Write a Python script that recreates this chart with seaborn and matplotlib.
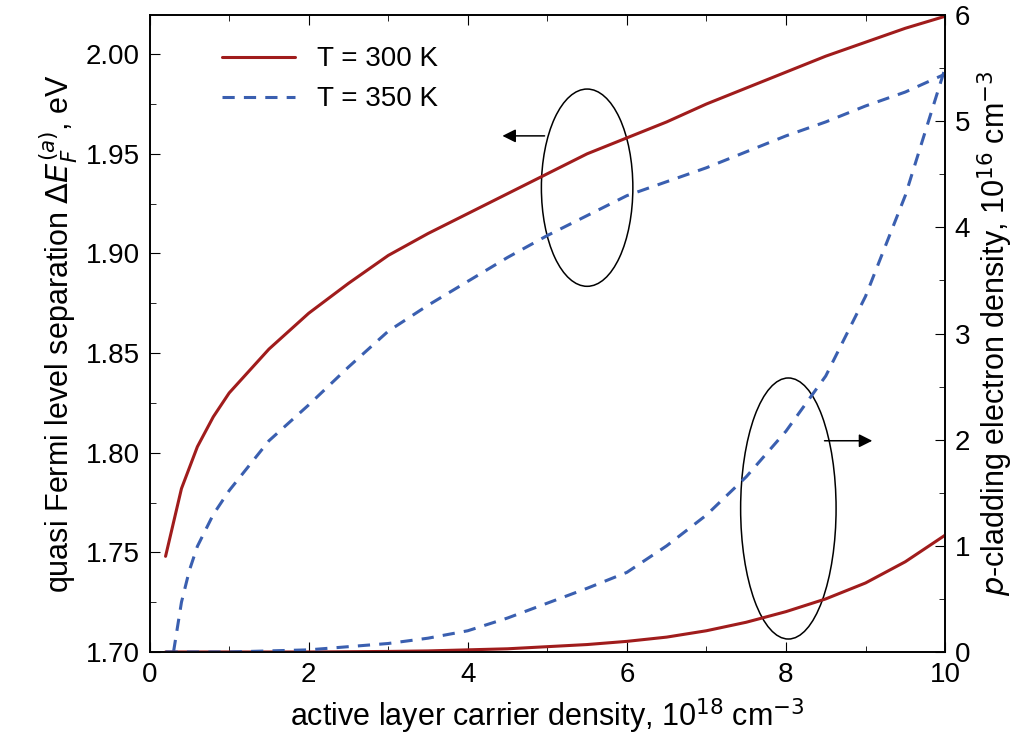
import numpy as np
import pandas as pd
import matplotlib
matplotlib.use("Agg")
import matplotlib.pyplot as plt
import seaborn as sns
from matplotlib.patches import Ellipse
from matplotlib.ticker import AutoMinorLocator

# Quasi Fermi level separation (left axis)
x_fermi_300 = [0.2, 0.4, 0.6, 0.8, 1.0, 1.5, 2.0, 2.5, 3.0, 3.5, 4.0, 4.5, 5.0, 5.5, 6.0, 6.5, 7.0, 7.5, 8.0, 8.5, 9.0, 9.5, 10.0]
fermi_300 = [1.748, 1.782, 1.803, 1.818, 1.830, 1.852, 1.870, 1.885, 1.899, 1.910, 1.920, 1.930, 1.940, 1.950, 1.958, 1.966, 1.975, 1.983, 1.991, 1.999, 2.006, 2.013, 2.019]
x_fermi_350 = [0.3, 0.4, 0.5, 0.6, 0.8, 1.0, 1.5, 2.0, 2.5, 3.0, 3.5, 4.0, 4.5, 5.0, 5.5, 6.0, 6.5, 7.0, 7.5, 8.0, 8.5, 9.0, 9.5, 10.0]
fermi_350 = [1.700, 1.725, 1.741, 1.753, 1.769, 1.781, 1.806, 1.824, 1.843, 1.861, 1.874, 1.886, 1.898, 1.909, 1.919, 1.929, 1.936, 1.943, 1.951, 1.959, 1.966, 1.974, 1.981, 1.990]

# p-cladding electron density (right axis)
x_elec = [0.2, 1.0, 2.0, 3.0, 3.5, 4.0, 4.5, 5.0, 5.5, 6.0, 6.5, 7.0, 7.5, 8.0, 8.5, 9.0, 9.5, 10.0]
elec_300 = [0.0, 0.0, 0.0, 0.005, 0.01, 0.02, 0.03, 0.05, 0.07, 0.10, 0.14, 0.20, 0.28, 0.38, 0.50, 0.65, 0.85, 1.10]
elec_350 = [0.0, 0.0, 0.02, 0.08, 0.13, 0.20, 0.32, 0.46, 0.60, 0.75, 1.00, 1.29, 1.65, 2.08, 2.60, 3.35, 4.30, 5.50]

RED = "#a01c1c"
BLUE = "#3a5fb0"

sns.set_style("ticks")
plt.rcParams['font.family'] = ['Liberation Sans', 'DejaVu Sans']
plt.rcParams['font.size'] = 20
plt.rcParams['text.color'] = 'black'
plt.rcParams['axes.labelcolor'] = 'black'
plt.rcParams['xtick.color'] = 'black'
plt.rcParams['ytick.color'] = 'black'

fig = plt.figure(figsize=(10.25, 7.56), dpi=100)
ax = fig.add_axes([0.146, 0.1376, 0.776, 0.8424])
ax2 = ax.twinx()

sns.lineplot(x=x_fermi_300, y=fermi_300, ax=ax, color=RED, lw=2.2, label="T = 300 K")
sns.lineplot(x=x_fermi_350, y=fermi_350, ax=ax, color=BLUE, lw=2.2, ls=(0, (4, 3)), label="T = 350 K")
sns.lineplot(x=x_elec, y=elec_300, ax=ax2, color=RED, lw=2.2, legend=False)
sns.lineplot(x=x_elec, y=elec_350, ax=ax2, color=BLUE, lw=2.2, ls=(0, (4, 3)), legend=False)

ax.set_xlim(0, 10)
ax.set_ylim(1.70, 2.0196)
ax2.set_ylim(0, 6)
ax.set_yticks(np.arange(1.70, 2.001, 0.05))
ax.set_yticklabels([f"{v:.2f}" for v in np.arange(1.70, 2.001, 0.05)])
for a in (ax, ax2):
    a.xaxis.set_minor_locator(AutoMinorLocator(2))
    a.yaxis.set_minor_locator(AutoMinorLocator(2))
    a.tick_params(which="both", direction="in", labelsize=20, pad=7)
    a.tick_params(which="major", length=7)
    a.tick_params(which="minor", length=4)
    for s in a.spines.values():
        s.set_linewidth(1.2)
        s.set_color("black")
ax2.tick_params(which="both", top=True)
ax.tick_params(which="both", top=True)

ax.set_xlabel("active layer carrier density, 10$^{18}$ cm$^{-3}$", fontsize=22, labelpad=6)
ax.set_ylabel("quasi Fermi level separation $\\Delta E_F^{(a)}$, eV", fontsize=22)
ax2.set_ylabel("$p$-cladding electron density, 10$^{16}$ cm$^{-3}$", fontsize=22)

ax.legend(loc="upper left", bbox_to_anchor=(0.06, 0.99), frameon=False, fontsize=20, handlelength=2.6)

ax.add_patch(Ellipse((5.5, 1.933), 1.15, 0.099, fill=False, ec="black", lw=1.1))
ax.annotate("", xy=(4.4, 1.959), xytext=(5.0, 1.959),
            arrowprops=dict(arrowstyle="-|>", color="black", lw=1.1))
ax.add_patch(Ellipse((8.03, 1.772), 1.2, 0.131, fill=False, ec="black", lw=1.1))
ax.annotate("", xy=(9.12, 1.806), xytext=(8.45, 1.806),
            arrowprops=dict(arrowstyle="-|>", color="black", lw=1.1))

fig.savefig("out.png", dpi=100)
